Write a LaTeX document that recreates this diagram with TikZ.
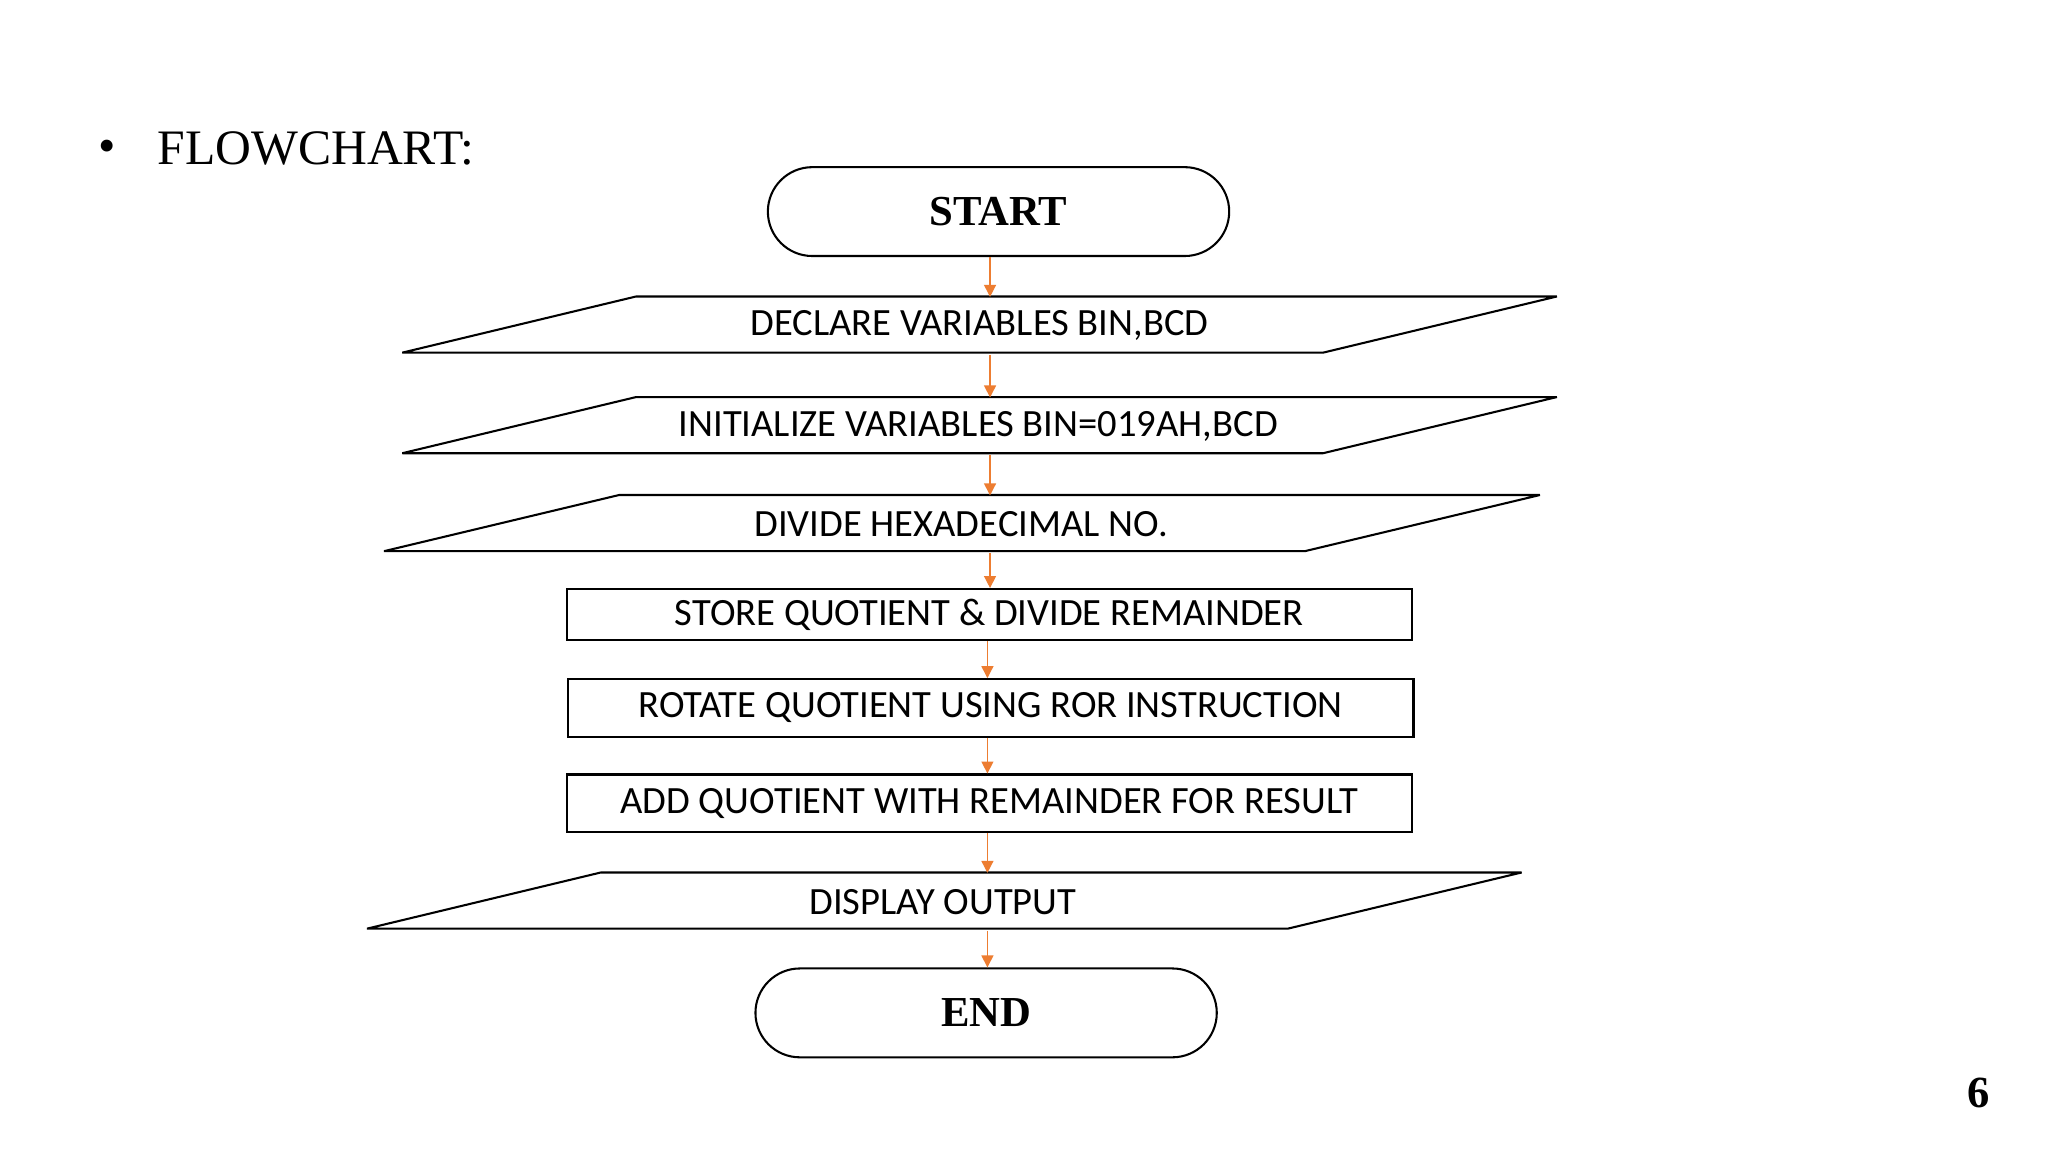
\documentclass[tikz,border=0pt]{standalone}
\usepackage{fontspec}
\setmainfont{Liberation Serif}
\newfontfamily\calfont{Carlito}
\usetikzlibrary{arrows.meta}
\definecolor{arrorange}{HTML}{ED7D31}
\newcommand{\lowtxt}[2]{\raisebox{-#1}{#2}}
\begin{document}
\begin{tikzpicture}[x=0.01cm,y=-0.01cm,
  outline/.style={draw=black,line width=0.45pt,line join=bevel},
  boxtxt/.style={font=\calfont\fontsize{8.4}{9}\selectfont,inner sep=0pt},
  termbox/.style={draw=black,line width=0.45pt,rounded corners=0.34cm,minimum width=3.53cm,minimum height=0.68cm,inner sep=0pt,font=\bfseries\fontsize{9.3}{10}\selectfont},
  procbox/.style={draw=black,line width=0.45pt,minimum width=6.47cm,inner sep=0pt,font=\calfont\fontsize{8.4}{9}\selectfont},
  flowarr/.style={draw=arrorange,line width=0.3pt,-{Triangle[width=2.6pt,length=2.6pt]}}]
\useasboundingbox[fill=white] (0,0) rectangle (1568,882);
% title
\node[font=\fontsize{10.8}{12}\selectfont,inner sep=0pt] (bullet) at (82,116) {•};
\node[font=\fontsize{10.8}{12}\selectfont,inner sep=0pt,anchor=west] (title) at (120,114) {FLOWCHART:};
\node[font=\bfseries\fontsize{9.7}{11}\selectfont,inner sep=0pt] (pagenum) at (1515,837) {6};
% axis of connectors
\coordinate (ax) at (758,0);
\coordinate (bx) at (756,0);
% start
\node[termbox] (start) at (764.5,162) {START};
% parallelogram 1
\draw[outline] (308,270) -- (487,227) -- (1192,227) -- (1013,270) -- cycle;
\node[boxtxt,minimum height=0.43cm] (p1) at (750,249.5) {DECLARE VARIABLES BIN,BCD};
% parallelogram 2
\draw[outline] (308,347) -- (487,304) -- (1192,304) -- (1013,347) -- cycle;
\node[boxtxt,minimum height=0.43cm] (p2) at (749,326.5) {INITIALIZE VARIABLES BIN=019AH,BCD};
% parallelogram 3
\draw[outline] (294,422) -- (474,379) -- (1179,379) -- (999,422) -- cycle;
\node[boxtxt,minimum height=0.43cm] (p3) at (736,401.5) {DIVIDE HEXADECIMAL NO.};
% rectangles
\node[procbox,minimum height=0.39cm] (r1) at (757.5,470.5) {\lowtxt{0.6pt}{STORE QUOTIENT \& DIVIDE REMAINDER}};
\node[procbox,minimum height=0.44cm] (r2) at (758.5,542) {\lowtxt{0.6pt}{ROTATE QUOTIENT USING ROR INSTRUCTION}};
\node[procbox,minimum height=0.44cm] (r3) at (757.5,615) {\lowtxt{0.8pt}{ADD QUOTIENT WITH REMAINDER FOR RESULT}};
% parallelogram 4
\draw[outline] (281,711) -- (460,668) -- (1165,668) -- (986,711) -- cycle;
\node[boxtxt,minimum height=0.43cm] (p4) at (722,690.5) {DISPLAY OUTPUT};
% end
\node[termbox] (end) at (755,775.5) {END};
% connectors
\draw[flowarr] (start.south -| ax) -- (p1.north -| ax);
\draw[flowarr] (p1.south -| ax) -- (p2.north -| ax);
\draw[flowarr] (p2.south -| ax) -- (p3.north -| ax);
\draw[flowarr] (p3.south -| ax) -- (r1.north -| ax);
\draw[flowarr] (r1.south -| bx) -- (r2.north -| bx);
\draw[flowarr] (r2.south -| bx) -- (r3.north -| bx);
\draw[flowarr] (r3.south -| bx) -- (p4.north -| bx);
\draw[flowarr] (p4.south -| bx) -- (end.north -| bx);
\end{tikzpicture}
\end{document}
